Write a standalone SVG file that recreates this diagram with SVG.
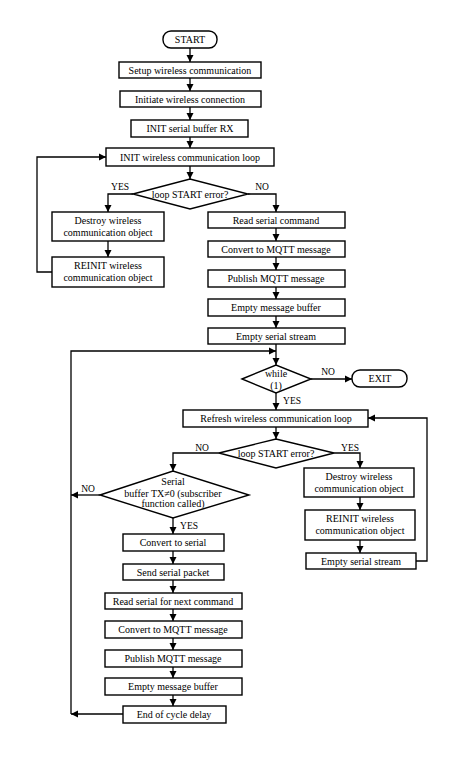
<svg xmlns="http://www.w3.org/2000/svg" width="474" height="766" viewBox="0 0 474 766">
<defs>
<marker id="ah" markerWidth="8" markerHeight="8" refX="7" refY="4" orient="auto" markerUnits="userSpaceOnUse">
<path d="M0,0.5 L7,4 L0,7.5 z" fill="#000"/>
</marker>
<style>
.b{fill:#fff;stroke:#000;stroke-width:1.4}
.t{font-family:"Liberation Serif","Times New Roman",serif;font-size:10px;fill:#000;text-anchor:middle}
.l{font-family:"Liberation Serif","Times New Roman",serif;font-size:9.5px;fill:#000;text-anchor:middle}
.c{fill:none;stroke:#000;stroke-width:1.3}
.a{fill:none;stroke:#000;stroke-width:1.3;marker-end:url(#ah)}
</style>
</defs>
<rect width="474" height="766" fill="#fff"/>
<g id="connectors">
<path class="a" d="M190,48 V62"/>
<path class="a" d="M190,78 V91"/>
<path class="a" d="M190,107 V120"/>
<path class="a" d="M190,137 V148"/>
<path class="a" d="M190,166 V179"/>
<path class="a" d="M133,194 H108 V212"/>
<path class="a" d="M248,194 H276 V212"/>
<path class="a" d="M108,241 V257"/>
<path class="a" d="M52,272 H37 V157 H106"/>
<path class="a" d="M276,228 V241"/>
<path class="a" d="M276,257 V270"/>
<path class="a" d="M276,287 V299"/>
<path class="a" d="M276,316 V328"/>
<path class="a" d="M276,344 V365"/>
<path class="a" d="M71,714 V351 H276"/>
<path class="a" d="M123,714 H71"/>
<path class="a" d="M100,495 H71"/>
<path class="a" d="M311,379 H352"/>
<path class="a" d="M276,393 V410"/>
<path class="a" d="M276,427 V439"/>
<path class="a" d="M219,453 H173 V471"/>
<path class="a" d="M334,453 H360 V468"/>
<path class="a" d="M360,497 V510"/>
<path class="a" d="M360,540 V553"/>
<path class="a" d="M416,561 H427 V418 H368"/>
<path class="a" d="M173,518 V534"/>
<path class="a" d="M173,551 V564"/>
<path class="a" d="M173,580 V593"/>
<path class="a" d="M173,609 V621"/>
<path class="a" d="M173,638 V650"/>
<path class="a" d="M173,667 V678"/>
<path class="a" d="M173,695 V706"/>
<text class="l" x="120" y="190">YES</text>
<text class="l" x="262" y="190">NO</text>
<text class="l" x="328" y="375">NO</text>
<text class="l" x="292" y="404">YES</text>
<text class="l" x="202" y="451">NO</text>
<text class="l" x="350" y="451">YES</text>
<text class="l" x="88" y="492">NO</text>
<text class="l" x="189" y="529">YES</text>
</g>
<g id="start"><rect class="b" x="163" y="31" width="54" height="17" rx="8"/><text class="t" x="190" y="43">START</text></g>
<g id="setup"><rect class="b" x="119" y="62" width="142" height="16"/><text class="t" x="190" y="73.5">Setup wireless communication</text></g>
<g id="initiate"><rect class="b" x="120" y="91" width="141" height="16"/><text class="t" x="190" y="102.5">Initiate wireless connection</text></g>
<g id="initrx"><rect class="b" x="131" y="120" width="117" height="17"/><text class="t" x="190" y="132">INIT serial buffer RX</text></g>
<g id="initloop"><rect class="b" x="106" y="148" width="168" height="18"/><text class="t" x="190" y="160.5">INIT wireless communication loop</text></g>
<g id="dec1"><polygon class="b" points="133,194 190,179 248,194 190,209"/><text class="t" x="190" y="197.5">loop START error?</text></g>
<g id="destroy1"><rect class="b" x="52" y="212" width="112" height="29"/><text class="t" x="108" y="223.5">Destroy wireless</text><text class="t" x="108" y="235.5">communication object</text></g>
<g id="reinit1"><rect class="b" x="52" y="257" width="112" height="30"/><text class="t" x="108" y="269">REINIT wireless</text><text class="t" x="108" y="281">communication object</text></g>
<g id="read"><rect class="b" x="208" y="212" width="137" height="16"/><text class="t" x="276" y="223.5">Read serial command</text></g>
<g id="convmqtt1"><rect class="b" x="208" y="241" width="137" height="16"/><text class="t" x="276" y="252.5">Convert to MQTT message</text></g>
<g id="pub1"><rect class="b" x="208" y="270" width="137" height="17"/><text class="t" x="276" y="282">Publish MQTT message</text></g>
<g id="emptybuf1"><rect class="b" x="208" y="299" width="137" height="17"/><text class="t" x="276" y="311">Empty message buffer</text></g>
<g id="emptyser1"><rect class="b" x="208" y="328" width="137" height="16"/><text class="t" x="276" y="339.5">Empty serial stream</text></g>
<g id="while"><polygon class="b" points="242,379 276,365 311,379 276,393"/><text class="t" x="276" y="377">while</text><text class="t" x="276" y="389">(1)</text></g>
<g id="exit"><rect class="b" x="352" y="370" width="55" height="17" rx="8"/><text class="t" x="380" y="382">EXIT</text></g>
<g id="refresh"><rect class="b" x="183" y="410" width="185" height="17"/><text class="t" x="276" y="422">Refresh wireless communication loop</text></g>
<g id="dec2"><polygon class="b" points="219,453 276,439 334,453 276,468"/><text class="t" x="276" y="457">loop START error?</text></g>
<g id="destroy2"><rect class="b" x="304" y="468" width="110" height="29"/><text class="t" x="359" y="479.5">Destroy wireless</text><text class="t" x="359" y="491.5">communication object</text></g>
<g id="reinit2"><rect class="b" x="305" y="510" width="110" height="30"/><text class="t" x="360" y="522">REINIT wireless</text><text class="t" x="360" y="534">communication object</text></g>
<g id="emptyser2"><rect class="b" x="306" y="553" width="110" height="16"/><text class="t" x="361" y="564.5">Empty serial stream</text></g>
<g id="dec3"><polygon class="b" points="100,495 173,471 249,495 173,518"/><text class="t" x="173" y="485">Serial</text><text class="t" x="173" y="496.5">buffer TX≠0 (subscriber</text><text class="t" x="173" y="507">function called)</text></g>
<g id="convser"><rect class="b" x="123" y="534" width="101" height="17"/><text class="t" x="173" y="546">Convert to serial</text></g>
<g id="send"><rect class="b" x="123" y="564" width="101" height="16"/><text class="t" x="173" y="575.5">Send serial packet</text></g>
<g id="readnext"><rect class="b" x="105" y="593" width="137" height="16"/><text class="t" x="173" y="604.5">Read serial for next command</text></g>
<g id="convmqtt2"><rect class="b" x="105" y="621" width="137" height="17"/><text class="t" x="173" y="633">Convert to MQTT message</text></g>
<g id="pub2"><rect class="b" x="105" y="650" width="137" height="17"/><text class="t" x="173" y="662">Publish MQTT message</text></g>
<g id="emptybuf2"><rect class="b" x="105" y="678" width="137" height="17"/><text class="t" x="173" y="690">Empty message buffer</text></g>
<g id="endcycle"><rect class="b" x="123" y="706" width="103" height="17"/><text class="t" x="174" y="718">End of cycle delay</text></g>
</svg>
